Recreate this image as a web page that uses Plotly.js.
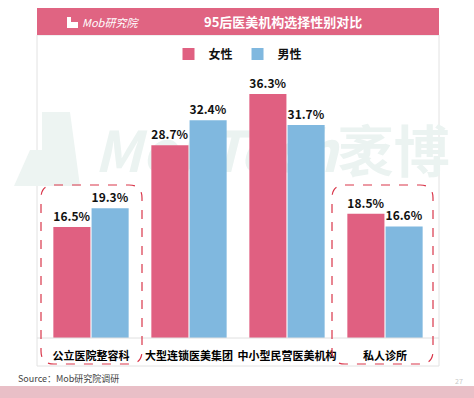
<!DOCTYPE html>
<html><head><meta charset="utf-8">
<script src="https://cdn.plot.ly/plotly-3.0.1.min.js"></script>
<style>html,body{margin:0;padding:0;background:#fff;}#chart{width:474px;height:398px;}</style>
</head><body><div id="chart"></div>
<script>
const categories = ['公立医院整容科', '大型连锁医美集团', '中小型民营医美机构', '私人诊所'];
const female = [16.5, 28.7, 36.3, 18.5];
const male = [19.3, 32.4, 31.7, 16.6];
const seriesNames = ['女性', '男性'];
const chartTitle = '95后医美机构选择性别对比';
const sourceText = 'Source：Mob研究院调研';

const W = 474, H = 398, L = 42, R = 40, T = 80, B = 60;
const pw = W - L - R, ph = H - T - B;
const px = x => (x - L) / pw;
const py = y => (H - B - y) / ph;
function roundRect(x0, y0, x1, y1, r) {
  const P = (x, y) => px(x).toFixed(5) + ',' + py(y).toFixed(5);
  return 'M' + P(x0 + r, y0) + ' L' + P(x1 - r, y0) + ' Q' + P(x1, y0) + ' ' + P(x1, y0 + r) +
    ' L' + P(x1, y1 - r) + ' Q' + P(x1, y1) + ' ' + P(x1 - r, y1) +
    ' L' + P(x0 + r, y1) + ' Q' + P(x0, y1) + ' ' + P(x0, y1 - r) +
    ' L' + P(x0, y0 + r) + ' Q' + P(x0, y0) + ' ' + P(x0 + r, y0) + ' Z';
}
const font = '"Noto Sans CJK SC", "Noto Sans", sans-serif';
const fmt = v => v.toFixed(1) + '%';

const traces = [
  {type: 'bar', name: seriesNames[0], x: categories, y: female, text: female.map(fmt),
   textposition: 'outside', cliponaxis: false, marker: {color: '#E06081'},
   textfont: {family: font, size: 12, color: '#111', weight: 'bold'}, hoverinfo: 'skip'},
  {type: 'bar', name: seriesNames[1], x: categories, y: male, text: male.map(fmt),
   textposition: 'outside', cliponaxis: false, marker: {color: '#80B8DF'},
   textfont: {family: font, size: 12, color: '#111', weight: 'bold'}, hoverinfo: 'skip'}
];

const shapes = [
  {type: 'rect', xref: 'paper', yref: 'paper', x0: px(37), x1: px(439), y0: py(35), y1: py(366),
   line: {color: '#e2e2e2', width: 1}, fillcolor: 'rgba(0,0,0,0)', layer: 'below'},
  {type: 'path', xref: 'paper', yref: 'paper', layer: 'below', line: {width: 0}, fillcolor: '#edf4f2',
   path: 'M' + px(14) + ',' + py(186) + ' L' + px(30) + ',' + py(150) + ' L' + px(42) + ',' + py(150) +
         ' L' + px(42) + ',' + py(112) + ' L' + px(70) + ',' + py(112) + ' L' + px(80) + ',' + py(186) + ' Z'},
  {type: 'rect', xref: 'paper', yref: 'paper', x0: px(92), x1: px(452), y0: py(120), y1: py(192),
   line: {width: 0}, fillcolor: 'rgba(0,0,0,0)', layer: 'below',
   label: {text: '<i>MobTech</i>袤博', font: {family: font, size: 56, color: '#ebf3f1', weight: 'bold'},
           textposition: 'middle center'}},
  {type: 'rect', xref: 'paper', yref: 'paper', x0: px(37), x1: px(439), y0: py(35), y1: py(8),
   line: {width: 0}, fillcolor: '#E06482'},
  {type: 'rect', xref: 'paper', yref: 'paper', x0: px(67), x1: px(71), y0: py(28), y1: py(17),
   line: {width: 0}, fillcolor: '#fff'},
  {type: 'rect', xref: 'paper', yref: 'paper', x0: px(71), x1: px(78), y0: py(28), y1: py(22),
   line: {width: 0}, fillcolor: '#fff'},
  {type: 'line', xref: 'paper', yref: 'paper', x0: px(37), x1: px(439), y0: 0, y1: 0,
   line: {color: '#e0e0e0', width: 1}},
  {type: 'path', xref: 'paper', yref: 'paper', path: roundRect(41, 185, 142, 364, 13),
   line: {color: '#D9364A', width: 1.2, dash: 'dash'}},
  {type: 'path', xref: 'paper', yref: 'paper', path: roundRect(332, 185, 433, 364, 13),
   line: {color: '#D9364A', width: 1.2, dash: 'dash'}},
  {type: 'rect', xref: 'paper', yref: 'paper', x0: px(0), x1: px(474), y0: py(386), y1: py(398),
   line: {width: 0}, fillcolor: '#e9bfc7'}
];

const annotations = [
  {xref: 'paper', yref: 'paper', x: px(283), y: py(21), text: '<b>' + chartTitle + '</b>', showarrow: false,
   font: {family: font, size: 13, color: '#fff'}, xanchor: 'center', yanchor: 'middle'},
  {xref: 'paper', yref: 'paper', x: px(80), y: py(22), text: '<i>Mob研究院</i>', showarrow: false,
   font: {family: font, size: 11, color: '#fff'}, xanchor: 'left', yanchor: 'middle'},
  {xref: 'paper', yref: 'paper', x: px(16), y: py(378), text: sourceText, showarrow: false,
   font: {family: font, size: 9, color: '#444'}, xanchor: 'left', yanchor: 'middle'},
  {xref: 'paper', yref: 'paper', x: px(465), y: py(381), text: '27', showarrow: false,
   font: {family: font, size: 7, color: '#c8c8c8'}, xanchor: 'right', yanchor: 'middle'}
];

const layout = {
  width: W, height: H, margin: {l: L, r: R, t: T, b: B},
  paper_bgcolor: '#fff', plot_bgcolor: 'rgba(0,0,0,0)',
  barmode: 'group', bargap: 0.22, bargroupgap: 0.03,
  font: {family: font},
  showlegend: true,
  legend: {orientation: 'h', x: 0.5, xanchor: 'center', y: py(54), yanchor: 'middle',
           font: {family: font, size: 12, color: '#111', weight: 'bold'}, itemwidth: 30,
           tracegroupgap: 0, bgcolor: 'rgba(0,0,0,0)'},
  xaxis: {type: 'category', showgrid: false, zeroline: false, showline: false, ticks: '',
          tickfont: {family: font, size: 11, color: '#000', weight: 'bold'}, ticklabelstandoff: 10,
          fixedrange: true},
  yaxis: {range: [0, ph / 6.72], visible: false, showgrid: false, zeroline: false, fixedrange: true},
  shapes: shapes, annotations: annotations
};

Plotly.newPlot('chart', traces, layout, {displayModeBar: false, staticPlot: true});
</script></body></html>
